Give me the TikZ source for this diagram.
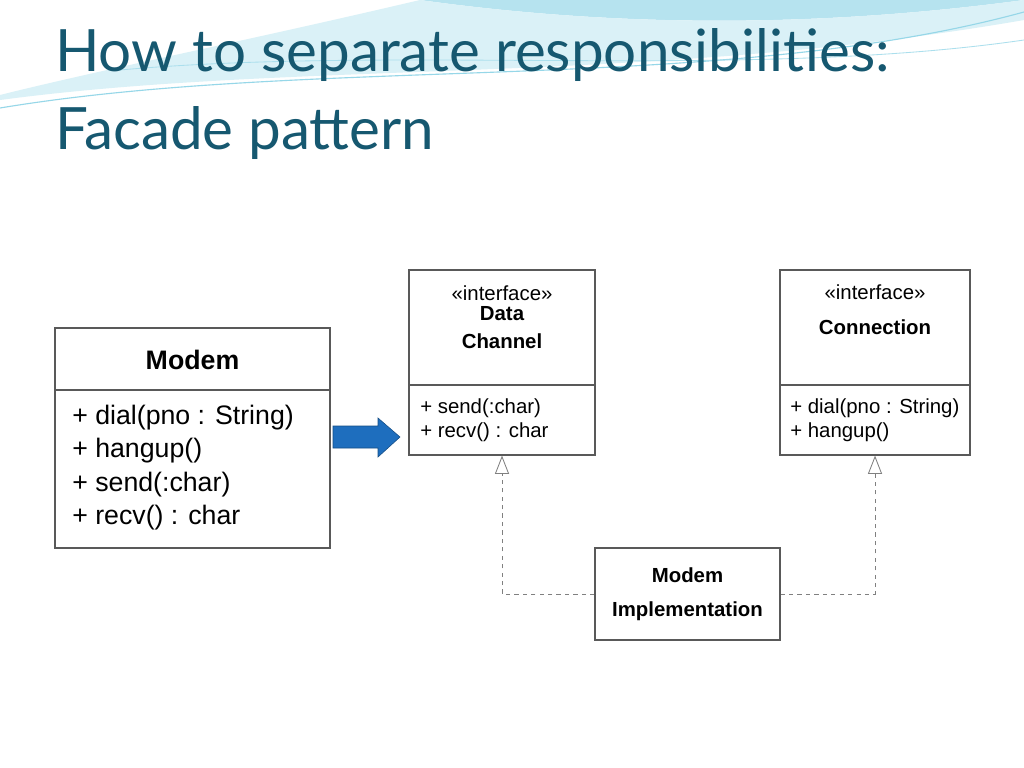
\documentclass[tikz,border=0pt]{standalone}
\usepackage{fontspec}
\setmainfont{Liberation Sans}
\newfontfamily\titlefont{Lato}
\usetikzlibrary{arrows.meta}
\definecolor{titleblue}{RGB}{22,88,112}
\definecolor{swoosh}{RGB}{150,215,232}
\definecolor{arrowblue}{RGB}{30,110,190}
\begin{document}
\begin{tikzpicture}[x=0.025cm, y=-0.025cm,
    umlbox/.style={rectangle, draw=gray!70!black, fill=white, line width=0.8pt, inner sep=0pt},
    small/.style={font=\fontsize{14.5}{17}\selectfont, inner sep=0pt},
    big/.style={font=\fontsize{19}{22}\selectfont, inner sep=0pt},
    realize/.style={dashed, draw=gray, line width=0.6pt, -{Triangle[open, length=13pt, width=10pt]}}
]
    % Hintergrund
    \useasboundingbox (0,0) rectangle (1024,768);
    \fill[white] (0,0) rectangle (1024,768);
    \fill[swoosh!70] (420,0) .. controls (600,25) and (800,30) .. (1024,0) -- cycle;
    \fill[swoosh!35] (0,100) .. controls (300,60) and (650,85) .. (1024,20) -- (1024,0) .. controls (800,30) and (600,25) .. (420,0) .. controls (250,40) and (100,70) .. (0,95) -- cycle;
    \draw[swoosh, line width=0.8pt] (0,108) .. controls (320,55) and (720,95) .. (1024,12);
    \draw[swoosh!80, line width=0.6pt] (120,70) .. controls (400,45) and (750,80) .. (1024,40);

    % Titel
    \node[anchor=base west, inner sep=0pt, text=titleblue, font=\titlefont\fontsize{41.5}{48}\selectfont] (title1) at (55,72) {How to separate responsibilities:};
    \node[anchor=base west, inner sep=0pt, text=titleblue, font=\titlefont\fontsize{41.5}{48}\selectfont] (title2) at (55,150) {Facade pattern};

    % Modem (links)
    \node[umlbox, minimum width=275*0.025cm, minimum height=220*0.025cm] (modem) at (192.5,438) {};
    \draw[gray!70!black, line width=0.8pt] (modem.west |- 0,390) -- (modem.east |- 0,390);
    \node[big, font=\bfseries\fontsize{19}{22}\selectfont] (modemname) at (192.5,360) {Modem};
    \node[big, anchor=west] (m1) at (72,418) {+ dial(pno : String)};
    \node[big, anchor=west] (m2) at (72,451) {+ hangup()};
    \node[big, anchor=west] (m3) at (72,485) {+ send(:char)};
    \node[big, anchor=west] (m4) at (72,518) {+ recv() : char};

    % Pfeil
    \fill[arrowblue, draw=arrowblue!70!black] (333,426) -- (378,426) -- (378,418) -- (400,437) -- (378,457) -- (378,448) -- (333,448) -- cycle;

    % Schnittstellen
    \node[umlbox, minimum width=186*0.025cm, minimum height=185*0.025cm] (datach) at (502,362.5) {};
    \draw[gray!70!black, line width=0.8pt] (datach.west |- 0,385) -- (datach.east |- 0,385);
    \node[small] (dcst) at (502,293) {«interface»};
    \node[small, font=\bfseries\fontsize{14.5}{17}\selectfont, align=center] (dcname) at (502,328) {Data\\[3pt]Channel};
    \node[small, anchor=west] (d1) at (420,408) {+ send(:char)};
    \node[small, anchor=west] (d2) at (420,432) {+ recv() : char};

    \node[umlbox, minimum width=190*0.025cm, minimum height=185*0.025cm] (conn) at (875,362.5) {};
    \draw[gray!70!black, line width=0.8pt] (conn.west |- 0,385) -- (conn.east |- 0,385);
    \node[small] (cst) at (875,292) {«interface»};
    \node[small, font=\bfseries\fontsize{14.5}{17}\selectfont] (cname) at (875,327) {Connection};
    \node[small, anchor=west] (c1) at (790,408) {+ dial(pno : String)};
    \node[small, anchor=west] (c2) at (790,432) {+ hangup()};

    % Implementierung
    \node[umlbox, minimum width=185*0.025cm, minimum height=92*0.025cm, align=center,
          font=\bfseries\fontsize{14.5}{24}\selectfont] (impl) at (687.5,594) {Modem\\Implementation};

    % Verbindungen
    \draw[realize] (impl.west) -| (datach.south);
    \draw[realize] (impl.east) -| (conn.south);
\end{tikzpicture}
\end{document}
